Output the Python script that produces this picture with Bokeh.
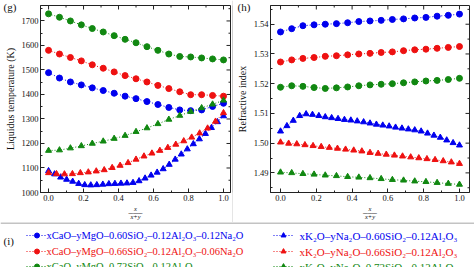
import math
from bokeh.plotting import figure
from bokeh.layouts import column, row
from bokeh.models import FixedTicker, PrintfTickFormatter, Title, Range1d
from bokeh.embed import file_html
from bokeh.resources import INLINE

# ---------------- data ----------------
x17 = [0.0, 0.0625, 0.125, 0.1875, 0.25, 0.3125, 0.375, 0.4375, 0.5, 0.5625,
       0.625, 0.6875, 0.75, 0.8125, 0.875, 0.9375, 1.0]
x30 = [0.0, 0.0345, 0.069, 0.1034, 0.1379, 0.1724, 0.2069, 0.2414, 0.2759, 0.3103,
       0.3448, 0.3793, 0.4138, 0.4483, 0.4828, 0.5172, 0.5517, 0.5862, 0.6207, 0.6552,
       0.6897, 0.7241, 0.7586, 0.7931, 0.8276, 0.8621, 0.8966, 0.931, 0.9655, 1.0]
x29 = [0.0, 0.0357, 0.0714, 0.1071, 0.1429, 0.1786, 0.2143, 0.25, 0.2857, 0.3214,
       0.3571, 0.3929, 0.4286, 0.4643, 0.5, 0.5357, 0.5714, 0.6071, 0.6429, 0.6786,
       0.7143, 0.75, 0.7857, 0.8214, 0.8571, 0.8929, 0.9286, 0.9643, 1.0]
x23 = [0.0, 0.0455, 0.0909, 0.1364, 0.1818, 0.2273, 0.2727, 0.3182, 0.3636, 0.4091,
       0.4545, 0.5, 0.5455, 0.5909, 0.6364, 0.6818, 0.7273, 0.7727, 0.8182, 0.8636,
       0.9091, 0.9545, 1.0]

# (g) liquidus temperature, CaO-MgO series (circles)
tl_cao_060 = [1489, 1467, 1451, 1439, 1427, 1416, 1405, 1393, 1383, 1371, 1359, 1347,
              1337, 1334, 1337, 1351, 1364]
tl_cao_066 = [1580, 1565, 1551, 1537, 1521, 1507, 1492, 1477, 1464, 1451, 1437, 1424,
              1411, 1399, 1399, 1396, 1393]
tl_cao_072 = [1729, 1715, 1700, 1684, 1669, 1655, 1640, 1625, 1611, 1595, 1580, 1565,
              1555, 1553, 1549, 1545, 1541]
# (g) liquidus temperature, K2O-Na2O series (triangles)
tl_k2o_060 = [1088, 1075, 1062, 1053, 1045, 1036, 1031, 1030, 1031, 1033, 1035, 1036,
              1037, 1038, 1040, 1047, 1058, 1070, 1082, 1096, 1114, 1135, 1156, 1177,
              1198, 1218, 1240, 1264, 1288, 1312]
tl_k2o_066 = [1080, 1076, 1075, 1076, 1080, 1083, 1087, 1092, 1101, 1110, 1121, 1135,
              1148, 1160, 1171, 1183, 1196, 1210, 1225, 1242, 1262, 1290, 1325]
tl_k2o_072 = [1171, 1173, 1181, 1190, 1200, 1209, 1220, 1232, 1248, 1263, 1280, 1298,
              1314, 1330, 1345, 1360, 1376]

# (h) refractive index, CaO-MgO series (circles)
ri_cao_060 = [1.5374, 1.5385, 1.5395, 1.5398, 1.5400, 1.5402, 1.5405, 1.5409, 1.5411,
              1.5413, 1.5416, 1.5418, 1.5421, 1.5423, 1.5427, 1.5430, 1.5434]
ri_cao_066 = [1.5273, 1.5280, 1.5285, 1.5288, 1.5292, 1.5294, 1.5297, 1.5300, 1.5302,
              1.5305, 1.5307, 1.5311, 1.5314, 1.5316, 1.5319, 1.5322, 1.5325]
ri_cao_072 = [1.5188, 1.5193, 1.5191, 1.5187, 1.5184, 1.5186, 1.5189, 1.5193, 1.5196,
              1.5198, 1.5200, 1.5203, 1.5206, 1.5209, 1.5211, 1.5214, 1.5218]
# (h) refractive index, K2O-Na2O series (triangles)
ri_k2o_060 = [1.5040, 1.5058, 1.5076, 1.5092, 1.5098, 1.5096, 1.5092, 1.5088, 1.5085,
              1.5082, 1.5079, 1.5077, 1.5074, 1.5071, 1.5067, 1.5063, 1.5060, 1.5057,
              1.5053, 1.5050, 1.5047, 1.5044, 1.5040, 1.5033, 1.5026, 1.5019, 1.5010,
              1.5001, 1.4993]
ri_k2o_066 = [1.5003, 1.4999, 1.4997, 1.4994, 1.4991, 1.4988, 1.4985, 1.4982, 1.4979,
              1.4976, 1.4973, 1.4968, 1.4965, 1.4962, 1.4959, 1.4956, 1.4953, 1.4950,
              1.4947, 1.4944, 1.4940, 1.4936, 1.4931]
ri_k2o_072 = [1.4902, 1.4900, 1.4897, 1.4895, 1.4892, 1.4890, 1.4887, 1.4885, 1.4883,
              1.4880, 1.4877, 1.4875, 1.4872, 1.4870, 1.4867, 1.4864, 1.4861]

labels_cao = ["xCaO\u2013yMgO\u20130.60SiO\u2082\u20130.12Al\u2082O\u2083\u20130.12Na\u2082O",
              "xCaO\u2013yMgO\u20130.66SiO\u2082\u20130.12Al\u2082O\u2083\u20130.06Na\u2082O",
              "xCaO\u2013yMgO\u20130.72SiO\u2082\u20130.12Al\u2082O\u2083"]
labels_k2o = ["xK\u2082O\u2013yNa\u2082O\u20130.60SiO\u2082\u20130.12Al\u2082O\u2083",
              "xK\u2082O\u2013yNa\u2082O\u20130.66SiO\u2082\u20130.12Al\u2082O\u2083",
              "xK\u2082O\u2013yNa\u2082O\u20130.72SiO\u2082\u20130.12Al\u2082O\u2083"]

g_ticks = [1000, 1100, 1200, 1300, 1400, 1500, 1600, 1700]
g_minor = [1050, 1150, 1250, 1350, 1450, 1550, 1650, 1750]
h_ticks = [1.49, 1.50, 1.51, 1.52, 1.53, 1.54]
h_minor = [1.485, 1.495, 1.505, 1.515, 1.525, 1.535, 1.545]
x_ticks = [0.0, 0.2, 0.4, 0.6, 0.8, 1.0]
x_minor = [0.1, 0.3, 0.5, 0.7, 0.9]
x_label = "x\n\u2500\u2500\u2500\nx+y"

COLORS = ["#0000ee", "#ee1111", "#118811"]
SERIF = "Liberation Serif"
AX = "#222222"


def style_axes(p, xr, yr, yticks, yminor, yfmt):
    p.xaxis.ticker = FixedTicker(ticks=x_ticks, minor_ticks=x_minor)
    p.yaxis.ticker = FixedTicker(ticks=yticks, minor_ticks=yminor)
    p.xaxis.formatter = PrintfTickFormatter(format="%.1f")
    p.yaxis.formatter = PrintfTickFormatter(format=yfmt)
    for ax in p.axis:
        ax.major_tick_in = 4
        ax.major_tick_out = 0
        ax.minor_tick_in = 2
        ax.minor_tick_out = 0
        ax.axis_line_color = AX
        ax.major_tick_line_color = AX
        ax.minor_tick_line_color = AX
        ax.major_label_text_font = SERIF
        ax.major_label_text_font_size = "8.5px"
        ax.major_label_text_color = "#111111"
        ax.major_label_standoff = 2
        ax.axis_label_text_font = SERIF
        ax.axis_label_text_color = "#111111"
    p.yaxis.axis_label_text_font_style = "normal"
    p.yaxis.axis_label_text_font_size = "10px"
    p.yaxis.axis_label_standoff = 3
    p.xaxis.axis_label = x_label
    p.xaxis.axis_label_text_font_style = "italic"
    p.xaxis.axis_label_text_font_size = "6.5px"
    p.xaxis.axis_label_text_line_height = 0.6
    p.xaxis.axis_label_standoff = 1
    p.grid.visible = False
    p.outline_line_color = AX
    # mirrored inward ticks on the top and right frame edges
    p.scatter(x_ticks, [yr[1]] * len(x_ticks), marker="dash", angle=math.pi / 2,
              size=8, line_color=AX, line_width=1)
    p.scatter(x_minor, [yr[1]] * len(x_minor), marker="dash", angle=math.pi / 2,
              size=4, line_color=AX, line_width=1)
    p.scatter([xr[1]] * len(yticks), yticks, marker="dash", size=8, line_color=AX,
              line_width=1)
    p.scatter([xr[1]] * len(yminor), yminor, marker="dash", size=4, line_color=AX,
              line_width=1)


def panel_tag(p, text, offset):
    p.add_layout(Title(text=text, align="left", offset=offset, standoff=-14,
                       text_font=SERIF, text_font_size="11px", text_font_style="normal",
                       text_color="#111111", vertical_align="bottom"), "above")


# ---------------- panel (g) ----------------
g_xr = (-0.046, 1.04)
g_yr = (1000, 1763)
pg = figure(width=232, height=222, x_range=g_xr, y_range=g_yr,
            output_backend="svg", toolbar_location=None,
            min_border_left=40, min_border_right=2, min_border_top=5, min_border_bottom=28)
style_axes(pg, g_xr, g_yr, g_ticks, g_minor, "%d")
pg.yaxis.axis_label = "Liquidus temperature (K)"
for ys, c in zip([tl_cao_060, tl_cao_066, tl_cao_072], COLORS):
    pg.line(x17, ys, color=c, line_width=1, line_dash="1 2")
    pg.scatter(x17, ys, marker="circle", size=6, color=c)
for xs, ys, c in zip([x30, x23, x17], [tl_k2o_060, tl_k2o_066, tl_k2o_072], COLORS):
    pg.line(xs, ys, color=c, line_width=1, line_dash="1 2")
    pg.scatter(xs, ys, marker="triangle", size=6, color=c)
panel_tag(pg, "(g)", -37)

# ---------------- panel (h) ----------------
h_xr = (-0.056, 1.056)
h_yr = (1.4834, 1.5463)
ph = figure(width=241, height=222, x_range=h_xr, y_range=h_yr,
            output_backend="svg", toolbar_location=None,
            min_border_left=36, min_border_right=5, min_border_top=5, min_border_bottom=20)
style_axes(ph, h_xr, h_yr, h_ticks, h_minor, "%.2f")
ph.yaxis.axis_label = "Refractive index"
for ys, c in zip([ri_cao_060, ri_cao_066, ri_cao_072], COLORS):
    ph.line(x17, ys, color=c, line_width=1, line_dash="1 2")
    ph.scatter(x17, ys, marker="circle", size=6, color=c)
for xs, ys, c in zip([x29, x23, x17], [ri_k2o_060, ri_k2o_066, ri_k2o_072], COLORS):
    ph.line(xs, ys, color=c, line_width=1, line_dash="1 2")
    ph.scatter(xs, ys, marker="triangle", size=6, color=c)
panel_tag(ph, "(h)", -33)

sep = figure(width=1, height=222, output_backend="svg", toolbar_location=None,
             min_border=0, background_fill_color="#999999", border_fill_color="#999999",
             outline_line_color=None)
sep.axis.visible = False
sep.grid.visible = False
sep.scatter([0], [0], alpha=0)

# ---------------- legend (i) ----------------
pl = figure(width=474, height=45, x_range=Range1d(0, 474), y_range=Range1d(267, 222),
            output_backend="svg", toolbar_location=None, min_border=0,
            outline_line_color=None)
pl.axis.visible = False
pl.grid.visible = False
pl.line([0, 474], [222.5, 222.5], color="#888888", line_width=1)
pl.text([3], [240], text=["(i)"], text_font_size="11px", text_baseline="middle",
        text_font=SERIF, text_color="#111111")
rows_y = [235, 251, 266]
for i in range(3):
    c = COLORS[i]
    yy = rows_y[i]
    pl.line([26, 47], [yy, yy], color=c, line_dash="1 2")
    pl.scatter([36.5], [yy], marker="circle", size=5, color=c)
    pl.text([46], [yy], text=[labels_cao[i]], text_color=c, text_font_size="10.5px",
            text_baseline="middle", text_font=SERIF)
    pl.line([273, 293], [yy, yy], color=c, line_dash="1 2")
    pl.scatter([283], [yy], marker="triangle", size=5, color=c)
    pl.text([299], [yy], text=[labels_k2o[i]], text_color=c, text_font_size="11px",
            text_baseline="middle", text_font=SERIF)

for p in (pg, ph, sep, pl):
    p.toolbar.logo = None

layout = column(row(pg, sep, ph, spacing=0), pl, spacing=0)
open("out.html", "w").write(file_html(layout, INLINE))
